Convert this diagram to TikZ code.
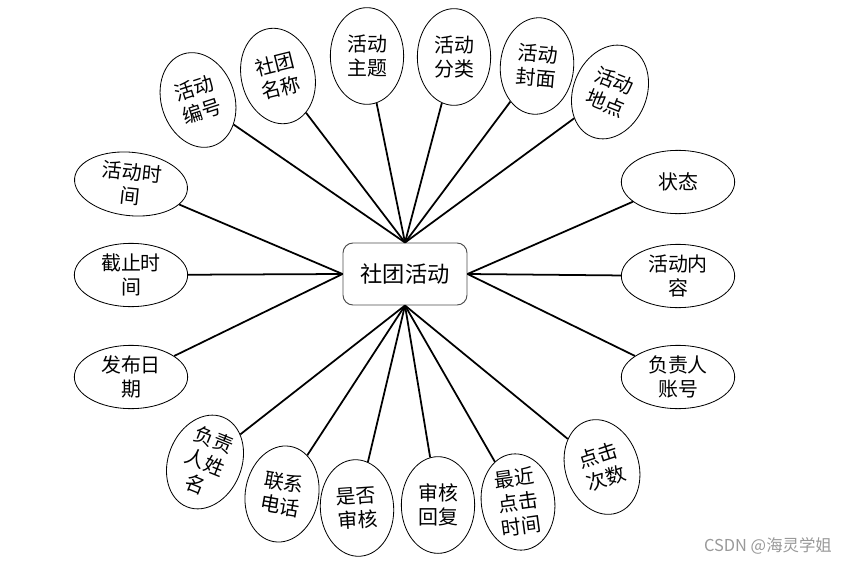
\documentclass[tikz,border=0pt]{standalone}
\usepackage{fontspec}
\newfontfamily\cjk{Noto Sans CJK SC}
\usepackage{tikz}
\usetikzlibrary{shapes.geometric}

\begin{document}
\begin{tikzpicture}[x=0.03cm, y=-0.03cm,
        attr/.style={ellipse, draw, line width=0.7pt, fill=white, inner sep=0pt, align=center,
            font=\cjk\fontsize{17}{20.5}\selectfont},
        tall/.style={attr, minimum width=2.2cm, minimum height=2.9cm},
        wide/.style={attr, minimum width=3.4cm, minimum height=1.9cm},
        entity/.style={rectangle, rounded corners=0.3cm, draw=black!70, line width=0.8pt,
            minimum width=3.72cm, minimum height=1.86cm, font=\cjk\fontsize{19}{23}\selectfont},
        link/.style={line width=1.5pt}]
        \useasboundingbox (0,0) rectangle (850,564);

        \node[entity] (huodong) at (405,274) {社团活动};

        % top
        \node[tall, rotate=18]  (bianhao)   at (198,100) {活动\\编号};
        \node[tall, rotate=14]  (mingcheng) at (278,76)  {社团\\名称};
        \node[tall]             (zhuti)     at (367,56)  {活动\\主题};
        \node[tall]             (fenlei)    at (454,57)  {活动\\分类};
        \node[tall, rotate=-5]  (fengmian)  at (537,66)  {活动\\封面};
        \node[tall, rotate=-22] (didian)    at (610,92)  {活动\\地点};

        % left
        \node[wide, rotate=-6]  (shijian)   at (131,184) {活动时\\间};
        \node[wide]             (jiezhi)    at (131,275) {截止时\\间};
        \node[wide]             (fabu)      at (131,377) {发布日\\期};

        % right
        \node[wide]             (zhuangtai) at (678,182) {状态};
        \node[wide]             (neirong)   at (678,276) {活动内\\容};
        \node[wide]             (zhanghao)  at (678,377) {负责人\\账号};

        % bottom
        \node[tall, rotate=-22] (xingming)  at (205,462) {负责\\人姓\\名};
        \node[tall, rotate=-10] (dianhua)   at (282,494) {联系\\电话};
        \node[tall, rotate=4]   (shenhe)    at (357,508) {是否\\审核};
        \node[tall]             (huifu)     at (438,505) {审核\\回复};
        \node[tall, rotate=8]   (zuijin)    at (518,502) {最近\\点击\\时间};
        \node[tall, rotate=18]  (cishu)     at (602,467) {点击\\次数};

        \path[link]
        (huodong.north) edge (bianhao)
        (huodong.north) edge (mingcheng)
        (huodong.north) edge (zhuti)
        (huodong.north) edge (fenlei)
        (huodong.north) edge (fengmian)
        (huodong.north) edge (didian)
        (huodong.west)  edge (shijian)
        (huodong.west)  edge (jiezhi)
        (huodong.west)  edge (fabu)
        (huodong.east)  edge (zhuangtai)
        (huodong.east)  edge (neirong)
        (huodong.east)  edge (zhanghao)
        (huodong.south) edge (xingming)
        (huodong.south) edge (dianhua)
        (huodong.south) edge (shenhe)
        (huodong.south) edge (huifu)
        (huodong.south) edge (zuijin)
        (huodong.south) edge (cishu);

        \node[anchor=east, text=black!40, font=\cjk\fontsize{14}{16}\selectfont] (mark) at (836,546) {CSDN @海灵学姐};
    \end{tikzpicture}
\end{document}
